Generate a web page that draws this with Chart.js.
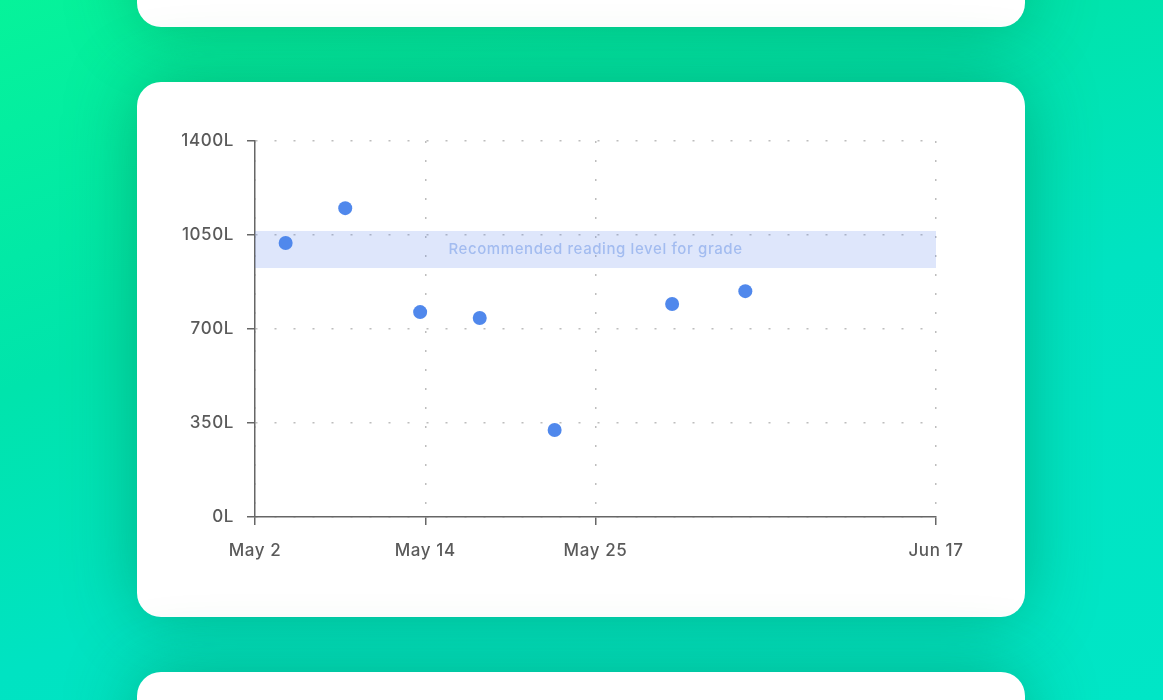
<!DOCTYPE html>
<html>
<head>
<meta charset="utf-8">
<script src="https://cdn.jsdelivr.net/npm/chart.js@4"></script>
<style>
    html, body {
        margin: 0;
        width: 1163px;
        height: 700px;
        overflow: hidden;
    }
    body {
        position: relative;
        background: linear-gradient(160deg, #06f39a 0%, #00e4ac 35%, #00e3c2 60%, #00e6c6 100%);
        font-family: 'Inter', sans-serif;
    }
    .card {
        position: absolute;
        left: 137px;
        width: 888px;
        background: #fff;
        border-radius: 24px;
        box-shadow: 0 0 70px rgba(0, 120, 70, 0.45);
    }
    #top { top: -60px; height: 87px; }
    #main { top: 82px; height: 535px; }
    #bottom { top: 672px; height: 100px; }
    #main canvas {
        position: absolute;
        left: 0;
        top: 0;
    }
</style>
</head>
<body>
<div class="card" id="top"></div>
<div class="card" id="main"><canvas id="myChart" width="888" height="535"></canvas></div>
<div class="card" id="bottom"></div>

<script>
// x positions are in "tick units": May 2 = 0, May 14 = 1, May 25 = 2, Jun 17 = 4
const xTickPos = [0, 1, 2, 4];
const xTickLabels = ['May 2', 'May 14', 'May 25', 'Jun 17'];
const readingX = [0.18, 0.53, 0.97, 1.32, 1.76, 2.45, 2.88];
const readingLexile = [1020, 1150, 763, 741, 324, 793, 841];
const bandRange = [927, 1065];
const bandLabel = 'Recommended reading level for grade';

const points = readingX.map((x, i) => ({ x: x, y: readingLexile[i] }));

// wider text, closer to the rounded font of the original
const spacingPlugin = {
    id: 'spacing',
    beforeDraw(chart) {
        chart.ctx.letterSpacing = '0.6px';
    }
};

const bandPlugin = {
    id: 'band',
    beforeDatasetsDraw(chart) {
        const { ctx, chartArea, scales } = chart;
        const yTop = scales.y.getPixelForValue(bandRange[1]);
        const yBot = scales.y.getPixelForValue(bandRange[0]);
        ctx.save();
        ctx.fillStyle = 'rgba(90, 130, 235, 0.2)';
        ctx.fillRect(chartArea.left, yTop, chartArea.right - chartArea.left, yBot - yTop);
        ctx.fillStyle = '#a3bcf0';
        ctx.font = '500 15px Inter';
        ctx.textAlign = 'center';
        ctx.textBaseline = 'middle';
        ctx.fillText(bandLabel, (chartArea.left + chartArea.right) / 2, (yTop + yBot) / 2);
        ctx.restore();
    }
};

var ctx = document.getElementById('myChart').getContext('2d');
var myChart = new Chart(ctx, { //eslint-disable-line
    type: 'scatter',
    data: {
        datasets: [{
            label: 'Reading level',
            data: points,
            backgroundColor: '#5088ec',
            borderWidth: 0,
            pointRadius: 7,
            pointHoverRadius: 7
        }]
    },
    options: {
        responsive: false,
        animation: false,
        layout: {
            padding: { left: 18, top: 59, right: 89, bottom: 50 }
        },
        plugins: {
            legend: { display: false },
            tooltip: { enabled: false }
        },
        scales: {
            x: {
                type: 'linear',
                min: 0,
                max: 4,
                afterBuildTicks: (scale) => {
                    scale.ticks = xTickPos.map(v => ({ value: v }));
                },
                afterFit: (scale) => {
                    scale.height = 50;
                },
                ticks: {
                    color: '#5a5a5a',
                    font: { family: 'Inter', size: 17, weight: 500 },
                    padding: 16,
                    maxRotation: 0,
                    autoSkip: false,
                    callback: (v) => xTickLabels[xTickPos.indexOf(v)]
                },
                grid: {
                    color: '#bdbdbd',
                    lineWidth: 1.5,
                    tickColor: '#666',
                    tickLength: 8,
                    tickWidth: 1.5
                },
                border: {
                    color: '#666',
                    width: 1.5,
                    dash: [2, 17]
                }
            },
            y: {
                min: 0,
                max: 1400,
                afterFit: (scale) => {
                    scale.width = 100;
                },
                ticks: {
                    stepSize: 350,
                    color: '#5a5a5a',
                    font: { family: 'Inter', size: 17, weight: 500 },
                    padding: 13,
                    callback: (v) => v + 'L'
                },
                grid: {
                    color: '#bdbdbd',
                    lineWidth: 1.5,
                    tickColor: '#666',
                    tickLength: 8,
                    tickWidth: 1.5
                },
                border: {
                    color: '#666',
                    width: 1.5,
                    dash: [2, 17]
                }
            }
        }
    },
    plugins: [spacingPlugin, bandPlugin]
});
</script>
</body>
</html>
